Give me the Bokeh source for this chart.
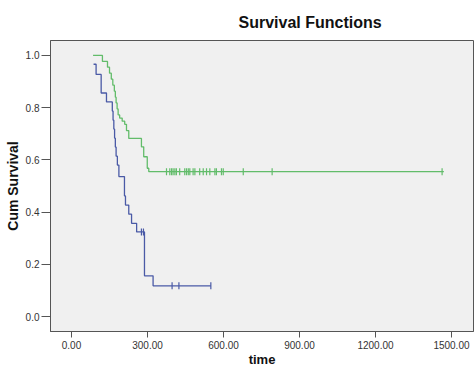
import numpy as np
from bokeh.plotting import figure
from bokeh.models import FixedTicker, NumeralTickFormatter, Range1d, Title
from bokeh.embed import file_html
from bokeh.resources import INLINE

# ---- data ----
blue_times = [87, 97, 117, 138, 161, 164, 167, 170, 173, 176, 181, 187, 209, 213, 226, 237, 257, 288, 322, 550]
blue_surv = [0.966, 0.927, 0.856, 0.822, 0.787, 0.752, 0.718, 0.683, 0.649, 0.614, 0.580, 0.536, 0.462, 0.427,
             0.392, 0.357, 0.324, 0.156, 0.118, 0.118]
blue_censor = [276, 284, 397, 424, 550]

green_times = [85, 122, 142, 150, 157, 163, 169, 173, 176, 180, 184, 190, 200, 210, 217, 226, 276, 285, 299, 305, 1470]
green_surv = [1.0, 0.977, 0.955, 0.932, 0.909, 0.886, 0.863, 0.840, 0.818, 0.795, 0.772, 0.760, 0.748, 0.736,
              0.712, 0.682, 0.650, 0.612, 0.568, 0.555, 0.555]
green_censor = [375, 388, 395, 401, 408, 414, 427, 447, 454, 461, 467, 480, 487, 506, 520, 533, 546, 566, 572,
                592, 599, 678, 792, 1463]

x_ticks = [0, 300, 600, 900, 1200, 1500]
y_ticks = [0.0, 0.2, 0.4, 0.6, 0.8, 1.0]

BLUE = "#4A5AA6"
GREEN = "#62BC6A"


def level_at(times, surv, t):
    i = np.searchsorted(np.array(times), t, side="right") - 1
    return surv[max(i, 0)]


p = figure(width=474, height=369, output_backend="svg", toolbar_location=None,
           x_range=Range1d(-83, 1587), y_range=Range1d(-0.057, 1.057),
           min_border_left=50, min_border_right=1, min_border_top=40, min_border_bottom=37)

p.background_fill_color = "#F0F0F0"
p.border_fill_color = "white"
p.outline_line_color = "#555555"
p.outline_line_width = 1
p.xgrid.visible = False
p.ygrid.visible = False

p.step(blue_times, blue_surv, mode="after", line_color=BLUE, line_width=1.3)
p.step(green_times, green_surv, mode="after", line_color=GREEN, line_width=1.3)

p.scatter(blue_censor, [level_at(blue_times, blue_surv, t) for t in blue_censor],
          marker="dash", angle=np.pi / 2, size=7, line_color=BLUE, line_width=1.2)
p.scatter(green_censor, [level_at(green_times, green_surv, t) for t in green_censor],
          marker="dash", angle=np.pi / 2, size=7, line_color=GREEN, line_width=1.2)

for ax in (p.xaxis[0], p.yaxis[0]):
    ax.axis_line_color = "#555555"
    ax.major_tick_line_color = "#555555"
    ax.minor_tick_line_color = None
    ax.major_tick_in = 0
    ax.major_label_text_font = "Liberation Sans"
    ax.major_label_text_font_size = "10px"
    ax.major_label_text_color = "#333333"
    ax.axis_label_text_font = "Liberation Sans"
    ax.axis_label_text_font_style = "bold"
    ax.axis_label_text_color = "#111111"

p.xaxis.ticker = FixedTicker(ticks=x_ticks)
p.xaxis.formatter = NumeralTickFormatter(format="0.00")
p.xaxis.major_tick_out = 6
p.xaxis.major_label_standoff = 3
p.xaxis.axis_label = "time"
p.xaxis.axis_label_text_font_size = "13px"
p.xaxis.axis_label_standoff = 0

p.yaxis.ticker = FixedTicker(ticks=y_ticks)
p.yaxis.formatter = NumeralTickFormatter(format="0.0")
p.yaxis.major_tick_out = 9
p.yaxis.major_label_standoff = 2
p.yaxis.axis_label = "Cum Survival"
p.yaxis.axis_label_text_font_size = "14px"
p.yaxis.axis_label_standoff = 2

p.add_layout(Title(text="Survival Functions", align="left", offset=188, standoff=20,
                   text_font="Liberation Sans", text_font_size="16px", text_font_style="bold",
                   text_color="#111111"), "above")

open("out.html", "w").write(file_html(p, INLINE))
